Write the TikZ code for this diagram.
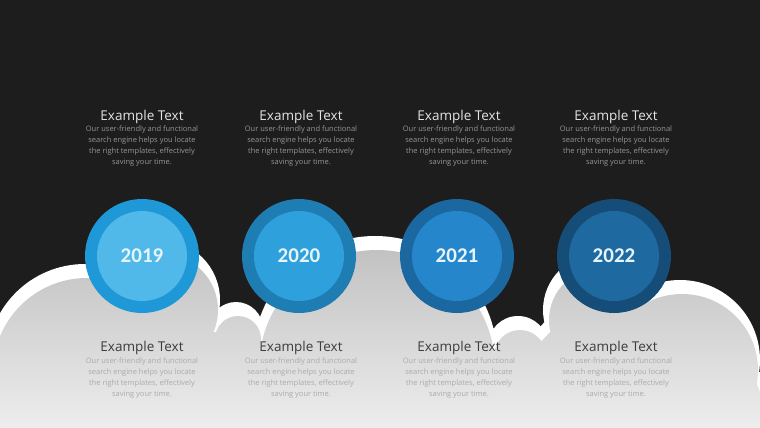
\documentclass[tikz,border=0pt]{standalone}
\usepackage{fontspec}
\setmainfont{Open Sans}
\newfontfamily\yearfont{Carlito}
\definecolor{bgdark}{HTML}{1D1D1D}
\definecolor{ringA}{HTML}{1E98D6}
\definecolor{innerA}{HTML}{50B9EA}
\definecolor{ringB}{HTML}{1E7DB3}
\definecolor{innerB}{HTML}{2EA0DC}
\definecolor{ringC}{HTML}{1B68A0}
\definecolor{innerC}{HTML}{2686CB}
\definecolor{ringD}{HTML}{164D78}
\definecolor{innerD}{HTML}{1E69A0}
\definecolor{yeartext}{HTML}{E6F4FB}
\definecolor{toptitle}{HTML}{E4E4E4}
\definecolor{topbody}{HTML}{959595}
\definecolor{bottitle}{HTML}{3C3C3C}
\definecolor{botbody}{HTML}{ABABAB}
\definecolor{greytop}{HTML}{C2C2C2}
\definecolor{greybot}{HTML}{FBFBFB}
\tikzset{
  ringnode/.style={circle, minimum size=114pt, inner sep=0pt},
  yearnode/.style={circle, minimum size=90pt, inner sep=0pt, text=yeartext, font=\yearfont\bfseries\fontsize{21}{25}\selectfont},
  ttitle/.style={text=toptitle, font=\fontsize{13.5}{16}\selectfont, inner sep=0pt},
  tbody/.style={text=topbody, font=\fontsize{7.5}{11}\selectfont, align=center, inner sep=0pt},
  btitle/.style={text=bottitle, font=\fontsize{13.5}{16}\selectfont, inner sep=0pt},
  bbody/.style={text=botbody, font=\fontsize{7.5}{11}\selectfont, align=center, inner sep=0pt}
}
\newcommand{\bodytext}{Our user-friendly and functional\\search engine helps you locate\\the right templates, effectively\\saving your time.}
\begin{document}
\begin{tikzpicture}[x=1pt,y=1pt]
\fill[bgdark] (0,0) rectangle (760,-428);
\useasboundingbox (0,0) rectangle (760,-428);
% cloud white outline
\fill[white]
  (85,-362) circle[radius=98pt]
  (160,-300) circle[radius=60pt]
  (236,-329) circle[radius=27pt]
  (375,-358) circle[radius=122pt]
  (518,-346) circle[radius=30pt]
  (599,-310) circle[radius=56pt]
  (680,-360) circle[radius=80pt]
  (0,-428) -- (760,-428) -- (760,-372) -- (758,-372) -- (640,-330) -- (548,-318)
  -- (520,-350) -- (490,-338) -- (262,-332) -- (225,-318) -- (170,-330) -- (0,-340) -- cycle;
% cloud grey body
\shade[top color=greytop, bottom color=greybot]
  (87,-372) circle[radius=94pt]
  (162,-310) circle[radius=56pt]
  (238,-339) circle[radius=23pt]
  (377,-368) circle[radius=118pt]
  (520,-356) circle[radius=26pt]
  (601,-320) circle[radius=52pt]
  (682,-370) circle[radius=76pt]
  (0,-428) -- (760,-428) -- (760,-392) -- (756,-382) -- (642,-342) -- (552,-330)
  -- (522,-362) -- (492,-356) -- (270,-348) -- (258,-346) -- (227,-330) -- (172,-340) -- (0,-352) -- cycle;
% year circles
\node[ringnode, fill=ringA] (r1) at (142,-256) {};
\node[yearnode, fill=innerA] (y1) at (r1) {2019};
\node[ringnode, fill=ringB] (r2) at (299,-256) {};
\node[yearnode, fill=innerB] (y2) at (r2) {2020};
\node[ringnode, fill=ringC] (r3) at (457,-256) {};
\node[yearnode, fill=innerC] (y3) at (r3) {2021};
\node[ringnode, fill=ringD] (r4) at (614,-256) {};
\node[yearnode, fill=innerD] (y4) at (r4) {2022};
% top texts
\node[ttitle] (tt1) at (142,-117) {Example Text};
\node[tbody] (tb1) at (142,-146) {\bodytext};
\node[ttitle] (tt2) at (301,-117) {Example Text};
\node[tbody] (tb2) at (301,-146) {\bodytext};
\node[ttitle] (tt3) at (459,-117) {Example Text};
\node[tbody] (tb3) at (459,-146) {\bodytext};
\node[ttitle] (tt4) at (616,-117) {Example Text};
\node[tbody] (tb4) at (616,-146) {\bodytext};
% bottom texts
\node[btitle] (bt1) at (142,-348) {Example Text};
\node[bbody] (bb1) at (142,-378) {\bodytext};
\node[btitle] (bt2) at (301,-348) {Example Text};
\node[bbody] (bb2) at (301,-378) {\bodytext};
\node[btitle] (bt3) at (459,-348) {Example Text};
\node[bbody] (bb3) at (459,-378) {\bodytext};
\node[btitle] (bt4) at (616,-348) {Example Text};
\node[bbody] (bb4) at (616,-378) {\bodytext};
\end{tikzpicture}
\end{document}
